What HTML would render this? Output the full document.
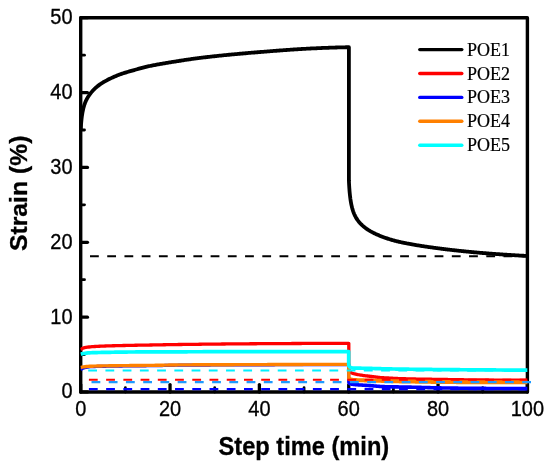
<!DOCTYPE html>
<html lang="en"><head><meta charset="utf-8"><title>Creep and recovery strain</title>
<style>html,body{margin:0;padding:0;background:#fff}body{width:550px;height:465px;overflow:hidden}svg{display:block}.tk{font-family:"Liberation Sans",Arial,sans-serif;font-size:20px;fill:#000;stroke:#000;stroke-width:0.3px}.ax{font-family:"Liberation Sans",Arial,sans-serif;font-size:24px;font-weight:bold;fill:#000;stroke:#000;stroke-width:0.3px}.lg{font-family:"Liberation Serif","Times New Roman",serif;font-size:18px;fill:#000;stroke:#000;stroke-width:0.2px}</style></head><body>
<svg width="550" height="465" viewBox="0 0 550 465">
<rect width="550" height="465" fill="#fff"/>
<rect x="80.7" y="17.7" width="446.70" height="374.30" fill="none" stroke="#000" stroke-width="3.4" stroke-linejoin="round"/>
<g stroke="#000" stroke-linecap="round"><line x1="80.7" y1="392.00" x2="87.5" y2="392.00" stroke-width="3.2"/><line x1="80.7" y1="354.57" x2="84.5" y2="354.57" stroke-width="2.8"/><line x1="80.7" y1="317.14" x2="87.5" y2="317.14" stroke-width="3.2"/><line x1="80.7" y1="279.71" x2="84.5" y2="279.71" stroke-width="2.8"/><line x1="80.7" y1="242.28" x2="87.5" y2="242.28" stroke-width="3.2"/><line x1="80.7" y1="204.85" x2="84.5" y2="204.85" stroke-width="2.8"/><line x1="80.7" y1="167.42" x2="87.5" y2="167.42" stroke-width="3.2"/><line x1="80.7" y1="129.99" x2="84.5" y2="129.99" stroke-width="2.8"/><line x1="80.7" y1="92.56" x2="87.5" y2="92.56" stroke-width="3.2"/><line x1="80.7" y1="55.13" x2="84.5" y2="55.13" stroke-width="2.8"/><line x1="80.7" y1="17.70" x2="87.5" y2="17.70" stroke-width="3.2"/><line x1="80.70" y1="392.0" x2="80.70" y2="384.6" stroke-width="3.3"/><line x1="125.37" y1="392.0" x2="125.37" y2="387.7" stroke-width="2.8"/><line x1="170.04" y1="392.0" x2="170.04" y2="384.6" stroke-width="3.3"/><line x1="214.71" y1="392.0" x2="214.71" y2="387.7" stroke-width="2.8"/><line x1="259.38" y1="392.0" x2="259.38" y2="384.6" stroke-width="3.3"/><line x1="304.05" y1="392.0" x2="304.05" y2="387.7" stroke-width="2.8"/><line x1="348.72" y1="392.0" x2="348.72" y2="384.6" stroke-width="3.3"/><line x1="393.39" y1="392.0" x2="393.39" y2="387.7" stroke-width="2.8"/><line x1="438.06" y1="392.0" x2="438.06" y2="384.6" stroke-width="3.3"/><line x1="482.73" y1="392.0" x2="482.73" y2="387.7" stroke-width="2.8"/><line x1="527.40" y1="392.0" x2="527.40" y2="384.6" stroke-width="3.3"/></g>
<text class="tk" transform="translate(72.6,398.4) scale(1,1.135)" text-anchor="end">0</text>
<text class="tk" transform="translate(72.6,323.5) scale(1,1.135)" text-anchor="end">10</text>
<text class="tk" transform="translate(72.6,248.7) scale(1,1.135)" text-anchor="end">20</text>
<text class="tk" transform="translate(72.6,173.8) scale(1,1.135)" text-anchor="end">30</text>
<text class="tk" transform="translate(72.6,99.0) scale(1,1.135)" text-anchor="end">40</text>
<text class="tk" transform="translate(72.6,24.1) scale(1,1.135)" text-anchor="end">50</text>
<text class="tk" transform="translate(80.7,416.1) scale(1,1.135)" text-anchor="middle">0</text>
<text class="tk" transform="translate(170.0,416.1) scale(1,1.135)" text-anchor="middle">20</text>
<text class="tk" transform="translate(259.4,416.1) scale(1,1.135)" text-anchor="middle">40</text>
<text class="tk" transform="translate(348.7,416.1) scale(1,1.135)" text-anchor="middle">60</text>
<text class="tk" transform="translate(438.1,416.1) scale(1,1.135)" text-anchor="middle">80</text>
<text class="tk" transform="translate(527.4,416.1) scale(1,1.135)" text-anchor="middle">100</text>
<text class="ax" transform="translate(303.9,454.8) scale(0.985,1.045)" text-anchor="middle">Step time (min)</text>
<text class="ax" transform="translate(27.3,193.3) scale(0.99,1.03) rotate(-90)" text-anchor="middle">Strain (%)</text>
<line x1="90" y1="256.3" x2="527" y2="256.3" stroke="#000" stroke-width="1.9" stroke-dasharray="8.8 8.43"/>
<defs><clipPath id="pc"><rect x="80.4" y="17.7" width="447.50" height="375.80"/></clipPath></defs>
<g clip-path="url(#pc)">
<path d="M80.70,130.79 L80.70,130.71 L80.72,130.46 L80.73,130.05 L80.76,129.50 L80.80,128.82 L80.84,128.04 L80.89,127.17 L80.95,126.23 L81.01,125.24 L81.08,124.21 L81.17,123.16 L81.25,122.10 L81.35,121.03 L81.45,119.97 L81.57,118.91 L81.69,117.87 L81.81,116.85 L81.95,115.84 L82.09,114.86 L82.24,113.89 L82.40,112.95 L82.56,112.03 L82.74,111.14 L82.92,110.26 L83.11,109.41 L83.30,108.58 L83.51,107.78 L83.72,106.99 L83.94,106.22 L84.16,105.47 L84.40,104.75 L84.64,104.04 L84.89,103.34 L85.15,102.67 L85.42,102.01 L85.69,101.37 L85.97,100.75 L86.26,100.15 L86.56,99.56 L86.86,98.98 L87.17,98.42 L87.49,97.87 L87.82,97.33 L88.15,96.80 L88.50,96.27 L88.85,95.75 L89.20,95.23 L89.57,94.70 L89.94,94.18 L90.32,93.65 L90.71,93.13 L91.11,92.62 L91.51,92.12 L91.93,91.63 L92.35,91.14 L92.77,90.67 L93.21,90.20 L93.65,89.74 L94.10,89.28 L95.08,88.34 L96.06,87.46 L97.03,86.64 L98.01,85.86 L98.99,85.12 L99.97,84.42 L100.95,83.75 L101.92,83.11 L102.90,82.50 L103.88,81.92 L104.86,81.36 L105.84,80.82 L106.81,80.30 L107.79,79.80 L108.77,79.31 L109.75,78.83 L110.73,78.36 L111.70,77.90 L112.68,77.45 L113.66,77.00 L114.64,76.57 L115.62,76.15 L116.59,75.74 L117.57,75.34 L118.55,74.96 L119.53,74.59 L120.51,74.24 L121.48,73.89 L122.46,73.56 L123.44,73.24 L124.42,72.92 L125.40,72.61 L126.37,72.31 L127.35,72.01 L128.33,71.72 L129.31,71.43 L130.29,71.15 L131.26,70.88 L132.24,70.60 L133.22,70.33 L134.20,70.06 L135.18,69.78 L136.15,69.50 L137.13,69.23 L138.11,68.95 L139.09,68.67 L140.07,68.39 L141.04,68.12 L142.02,67.86 L143.00,67.60 L143.98,67.35 L144.96,67.10 L145.93,66.87 L146.91,66.64 L147.89,66.43 L148.87,66.22 L149.85,66.01 L150.82,65.81 L151.80,65.61 L152.78,65.41 L153.76,65.22 L154.74,65.03 L155.71,64.84 L156.69,64.65 L157.67,64.47 L158.65,64.29 L159.63,64.11 L160.60,63.94 L161.58,63.77 L162.56,63.60 L163.54,63.43 L164.52,63.26 L165.49,63.09 L166.47,62.93 L167.45,62.77 L168.43,62.61 L169.41,62.45 L170.38,62.29 L171.36,62.13 L172.34,61.98 L173.32,61.82 L174.30,61.67 L175.27,61.52 L176.25,61.36 L177.23,61.21 L178.21,61.06 L179.19,60.90 L180.16,60.75 L181.14,60.60 L182.12,60.45 L183.10,60.29 L184.08,60.14 L185.05,59.99 L186.03,59.85 L187.01,59.70 L187.99,59.55 L188.97,59.41 L189.94,59.26 L190.92,59.12 L191.90,58.98 L192.88,58.84 L193.86,58.71 L194.83,58.57 L195.81,58.44 L196.79,58.31 L197.77,58.18 L198.75,58.06 L199.72,57.94 L200.70,57.82 L201.68,57.70 L202.66,57.58 L203.64,57.46 L204.61,57.35 L205.59,57.24 L206.57,57.12 L207.55,57.01 L208.52,56.90 L209.50,56.79 L210.48,56.68 L211.46,56.57 L212.44,56.46 L213.41,56.35 L214.39,56.25 L215.37,56.14 L216.35,56.04 L217.33,55.94 L218.30,55.83 L219.28,55.73 L220.26,55.63 L221.24,55.53 L222.22,55.43 L223.19,55.33 L224.17,55.23 L225.15,55.14 L226.13,55.04 L227.11,54.94 L228.08,54.85 L229.06,54.75 L230.04,54.66 L231.02,54.57 L232.00,54.47 L232.97,54.38 L233.95,54.29 L234.93,54.20 L235.91,54.11 L236.89,54.02 L237.86,53.93 L238.84,53.84 L239.82,53.75 L240.80,53.67 L241.78,53.58 L242.75,53.49 L243.73,53.41 L244.71,53.32 L245.69,53.24 L246.67,53.15 L247.64,53.07 L248.62,52.98 L249.60,52.90 L250.58,52.82 L251.56,52.73 L252.53,52.65 L253.51,52.57 L254.49,52.49 L255.47,52.41 L256.45,52.33 L257.42,52.25 L258.40,52.17 L259.38,52.09 L260.41,52.02 L261.41,51.94 L262.42,51.86 L263.42,51.78 L264.43,51.69 L265.43,51.61 L266.44,51.53 L267.44,51.45 L268.45,51.37 L269.46,51.29 L270.46,51.21 L271.47,51.13 L272.47,51.05 L273.48,50.97 L274.48,50.89 L275.49,50.81 L276.50,50.74 L277.50,50.66 L278.51,50.58 L279.51,50.51 L280.52,50.43 L281.52,50.35 L282.53,50.28 L283.53,50.20 L284.54,50.13 L285.55,50.06 L286.55,49.99 L287.56,49.92 L288.56,49.85 L289.57,49.78 L290.57,49.71 L291.58,49.65 L292.59,49.58 L293.59,49.51 L294.60,49.45 L295.60,49.38 L296.61,49.32 L297.61,49.26 L298.62,49.19 L299.62,49.13 L300.63,49.07 L301.64,49.01 L302.64,48.95 L303.65,48.89 L304.65,48.83 L305.66,48.78 L306.66,48.72 L307.67,48.67 L308.68,48.62 L309.68,48.57 L310.69,48.52 L311.69,48.47 L312.70,48.42 L313.70,48.37 L314.71,48.32 L315.71,48.28 L316.72,48.23 L317.73,48.19 L318.73,48.14 L319.74,48.10 L320.74,48.06 L321.75,48.01 L322.75,47.97 L323.76,47.93 L324.77,47.89 L325.77,47.85 L326.78,47.82 L327.78,47.78 L328.79,47.74 L329.79,47.71 L330.80,47.67 L331.80,47.64 L332.81,47.61 L333.82,47.58 L334.82,47.54 L335.83,47.51 L336.83,47.49 L337.84,47.46 L338.84,47.43 L339.85,47.40 L340.86,47.38 L341.86,47.35 L342.87,47.33 L343.87,47.31 L344.88,47.28 L345.88,47.26 L346.89,47.24 L347.89,47.22 L348.90,47.20 L348.90,180.57 L348.90,180.63 L348.91,180.82 L348.93,181.14 L348.95,181.57 L348.97,182.11 L349.00,182.75 L349.04,183.48 L349.08,184.28 L349.13,185.14 L349.19,186.05 L349.25,187.00 L349.31,187.99 L349.38,188.99 L349.46,190.01 L349.54,191.04 L349.63,192.07 L349.73,193.09 L349.83,194.11 L349.93,195.12 L350.05,196.12 L350.16,197.10 L350.29,198.07 L350.41,199.01 L350.55,199.94 L350.69,200.85 L350.84,201.74 L350.99,202.61 L351.14,203.46 L351.31,204.29 L351.48,205.10 L351.65,205.89 L351.83,206.66 L352.02,207.41 L352.21,208.15 L352.41,208.86 L352.61,209.56 L352.82,210.24 L353.03,210.91 L353.25,211.56 L353.48,212.19 L353.71,212.80 L353.95,213.40 L354.19,213.99 L354.44,214.56 L354.70,215.11 L354.96,215.65 L355.22,216.18 L355.50,216.70 L355.77,217.21 L356.06,217.70 L356.35,218.18 L356.64,218.66 L356.94,219.12 L357.25,219.58 L357.56,220.03 L357.88,220.48 L358.20,220.92 L358.53,221.34 L358.87,221.77 L359.21,222.18 L359.55,222.58 L359.91,222.98 L360.26,223.37 L360.63,223.75 L361.00,224.13 L361.37,224.50 L361.75,224.86 L362.14,225.22 L362.53,225.58 L362.93,225.93 L363.33,226.28 L363.74,226.62 L364.16,226.96 L364.58,227.30 L365.00,227.63 L365.44,227.97 L365.87,228.29 L366.32,228.61 L366.77,228.93 L367.44,229.39 L368.11,229.83 L368.79,230.26 L369.46,230.67 L370.13,231.07 L370.81,231.45 L371.48,231.82 L372.15,232.18 L372.82,232.52 L373.50,232.87 L374.17,233.20 L374.84,233.53 L375.52,233.85 L376.19,234.16 L376.86,234.47 L377.53,234.77 L378.21,235.07 L378.88,235.36 L379.55,235.64 L380.23,235.92 L380.90,236.19 L381.57,236.46 L382.24,236.72 L382.92,236.97 L383.59,237.22 L384.26,237.46 L384.94,237.70 L385.61,237.93 L386.28,238.16 L386.95,238.39 L387.63,238.61 L388.30,238.83 L388.97,239.05 L389.65,239.26 L390.32,239.47 L390.99,239.67 L391.66,239.87 L392.34,240.07 L393.01,240.26 L393.68,240.44 L394.35,240.62 L395.03,240.80 L395.70,240.97 L396.37,241.14 L397.05,241.30 L397.72,241.46 L398.39,241.62 L399.06,241.78 L399.74,241.93 L400.41,242.08 L401.08,242.23 L401.76,242.38 L402.43,242.53 L403.10,242.67 L403.77,242.81 L404.45,242.95 L405.12,243.09 L405.79,243.22 L406.47,243.35 L407.14,243.49 L407.81,243.62 L408.48,243.74 L409.16,243.87 L409.83,243.99 L410.50,244.12 L411.18,244.24 L411.85,244.36 L412.52,244.48 L413.19,244.60 L413.87,244.71 L414.54,244.83 L415.21,244.94 L415.89,245.05 L416.56,245.17 L417.23,245.28 L417.90,245.38 L418.58,245.49 L419.25,245.60 L419.92,245.71 L420.60,245.81 L421.27,245.92 L421.94,246.02 L422.61,246.12 L423.29,246.22 L423.96,246.33 L424.63,246.43 L425.31,246.53 L425.98,246.62 L426.65,246.72 L427.32,246.82 L428.00,246.92 L428.67,247.02 L429.34,247.11 L430.02,247.21 L430.69,247.30 L431.36,247.40 L432.03,247.49 L432.71,247.59 L433.38,247.68 L434.05,247.77 L434.73,247.86 L435.40,247.95 L436.07,248.04 L436.74,248.13 L437.42,248.22 L438.09,248.31 L438.76,248.40 L439.44,248.49 L440.11,248.57 L440.78,248.66 L441.45,248.75 L442.13,248.83 L442.80,248.92 L443.47,249.00 L444.15,249.08 L444.82,249.17 L445.49,249.25 L446.16,249.33 L446.84,249.41 L447.51,249.49 L448.18,249.57 L448.86,249.65 L449.53,249.73 L450.20,249.80 L450.87,249.88 L451.55,249.96 L452.22,250.03 L452.89,250.11 L453.57,250.18 L454.24,250.26 L454.91,250.33 L455.58,250.41 L456.26,250.48 L456.93,250.55 L457.60,250.63 L458.28,250.70 L458.95,250.77 L459.62,250.84 L460.29,250.91 L460.97,250.98 L461.64,251.05 L462.31,251.12 L462.99,251.19 L463.66,251.26 L464.33,251.33 L465.00,251.40 L465.68,251.47 L466.35,251.53 L467.02,251.60 L467.70,251.67 L468.37,251.73 L469.04,251.80 L469.71,251.86 L470.39,251.93 L471.06,251.99 L471.73,252.05 L472.41,252.12 L473.08,252.18 L473.75,252.24 L474.42,252.30 L475.10,252.36 L475.77,252.42 L476.44,252.48 L477.12,252.54 L477.79,252.60 L478.46,252.66 L479.13,252.71 L479.81,252.77 L480.48,252.83 L481.15,252.88 L481.83,252.94 L482.50,252.99 L483.17,253.05 L483.84,253.10 L484.52,253.15 L485.19,253.21 L485.86,253.26 L486.54,253.31 L487.21,253.37 L487.88,253.42 L488.55,253.47 L489.23,253.52 L489.90,253.57 L490.57,253.63 L491.25,253.68 L491.92,253.73 L492.59,253.78 L493.26,253.82 L493.94,253.87 L494.61,253.92 L495.28,253.97 L495.96,254.02 L496.63,254.07 L497.30,254.11 L497.97,254.16 L498.65,254.21 L499.32,254.25 L499.99,254.30 L500.67,254.35 L501.34,254.39 L502.01,254.44 L502.68,254.48 L503.36,254.53 L504.03,254.57 L504.70,254.62 L505.38,254.66 L506.05,254.70 L506.72,254.75 L507.39,254.79 L508.07,254.83 L508.74,254.88 L509.41,254.92 L510.09,254.96 L510.76,255.01 L511.43,255.05 L512.10,255.09 L512.78,255.13 L513.45,255.17 L514.12,255.21 L514.80,255.26 L515.47,255.30 L516.14,255.34 L516.81,255.38 L517.49,255.42 L518.16,255.46 L518.83,255.50 L519.51,255.54 L520.18,255.58 L520.85,255.61 L521.52,255.65 L522.20,255.69 L522.87,255.73 L523.54,255.77 L524.22,255.81 L524.89,255.84 L525.56,255.88 L526.23,255.92 L526.91,255.95 L527.58,255.99" fill="none" stroke="#000" stroke-width="3.8" stroke-linejoin="round" stroke-linecap="butt"/>
<path d="M80.70,349.80 L81.78,348.74 L83.09,348.12 L84.56,347.70 L86.02,347.41 L87.50,347.18 L88.98,347.00 L90.47,346.85 L91.96,346.72 L93.45,346.60 L94.94,346.49 L96.43,346.39 L97.92,346.30 L99.41,346.23 L100.90,346.16 L102.39,346.10 L103.89,346.04 L105.38,345.99 L106.87,345.94 L108.36,345.90 L109.86,345.85 L111.35,345.81 L112.84,345.77 L114.34,345.74 L115.83,345.70 L117.32,345.66 L118.82,345.63 L120.31,345.59 L121.80,345.56 L123.30,345.52 L124.79,345.49 L126.28,345.46 L127.78,345.42 L129.27,345.39 L130.76,345.36 L132.26,345.33 L133.75,345.30 L135.24,345.27 L136.74,345.25 L138.23,345.22 L139.72,345.19 L141.21,345.16 L142.71,345.14 L144.20,345.11 L145.69,345.08 L147.19,345.06 L148.68,345.03 L150.17,345.00 L151.67,344.98 L153.16,344.95 L154.65,344.92 L156.15,344.90 L157.64,344.87 L159.13,344.84 L160.63,344.82 L162.12,344.79 L163.61,344.76 L165.11,344.74 L166.60,344.71 L168.09,344.68 L169.59,344.66 L171.08,344.63 L172.57,344.61 L174.07,344.59 L175.56,344.56 L177.05,344.54 L178.55,344.52 L180.04,344.50 L181.53,344.48 L183.03,344.46 L184.52,344.44 L186.01,344.42 L187.51,344.40 L189.00,344.39 L190.49,344.37 L191.99,344.35 L193.48,344.33 L194.97,344.31 L196.47,344.29 L197.96,344.28 L199.45,344.26 L200.95,344.24 L202.44,344.22 L203.93,344.21 L205.43,344.19 L206.92,344.17 L208.41,344.16 L209.91,344.14 L211.40,344.12 L212.89,344.11 L214.39,344.09 L215.88,344.08 L217.37,344.06 L218.87,344.05 L220.36,344.03 L221.86,344.02 L223.35,344.00 L224.84,343.99 L226.34,343.97 L227.83,343.96 L229.32,343.94 L230.82,343.93 L232.31,343.92 L233.80,343.90 L235.30,343.89 L236.79,343.88 L238.28,343.86 L239.78,343.85 L241.27,343.84 L242.76,343.83 L244.26,343.81 L245.75,343.80 L247.24,343.79 L248.74,343.78 L250.23,343.77 L251.72,343.76 L253.22,343.75 L254.71,343.74 L256.20,343.73 L257.70,343.72 L259.19,343.71 L260.68,343.70 L262.18,343.69 L263.67,343.68 L265.17,343.67 L266.66,343.66 L268.15,343.65 L269.65,343.64 L271.14,343.63 L272.63,343.62 L274.13,343.61 L275.62,343.61 L277.11,343.60 L278.61,343.59 L280.10,343.58 L281.59,343.57 L283.09,343.57 L284.58,343.56 L286.07,343.55 L287.57,343.54 L289.06,343.54 L290.55,343.53 L292.05,343.52 L293.54,343.51 L295.03,343.51 L296.53,343.50 L298.02,343.49 L299.52,343.49 L301.01,343.48 L302.50,343.47 L304.00,343.47 L305.49,343.46 L306.98,343.45 L308.48,343.45 L309.97,343.44 L311.46,343.43 L312.96,343.43 L314.45,343.42 L315.94,343.42 L317.44,343.41 L318.93,343.40 L320.42,343.40 L321.92,343.39 L323.41,343.39 L324.90,343.38 L326.40,343.38 L327.89,343.37 L329.38,343.36 L330.88,343.36 L332.37,343.35 L333.87,343.35 L335.36,343.34 L336.85,343.34 L338.35,343.33 L339.84,343.33 L341.33,343.32 L342.83,343.32 L344.32,343.31 L345.81,343.31 L347.31,343.30 L348.80,343.30 L348.80,343.30 L348.80,344.31 L348.80,345.32 L348.80,346.32 L348.80,347.33 L348.80,348.33 L348.80,349.34 L348.80,350.34 L348.80,351.34 L348.80,352.34 L348.80,353.35 L348.80,354.35 L348.80,355.35 L348.80,356.34 L348.80,357.34 L348.80,358.34 L348.80,359.34 L348.80,360.34 L348.80,361.33 L348.80,362.33 L348.80,363.32 L348.80,364.32 L348.80,365.31 L348.80,366.31 L348.80,367.30 L348.84,368.30 L348.99,369.30 L349.19,370.27 L349.56,371.23 L350.11,372.02 L350.93,372.61 L351.84,373.05 L352.77,373.39 L353.74,373.68 L354.72,373.93 L355.69,374.16 L356.66,374.37 L357.64,374.57 L358.63,374.75 L359.61,374.92 L360.60,375.08 L361.59,375.23 L362.58,375.38 L363.57,375.52 L364.56,375.65 L365.56,375.78 L366.55,375.90 L367.54,376.01 L368.54,376.13 L369.53,376.24 L370.52,376.36 L371.51,376.49 L372.51,376.62 L373.50,376.75 L374.49,376.89 L375.48,377.01 L376.48,377.14 L377.47,377.25 L378.46,377.36 L379.46,377.45 L380.45,377.54 L381.45,377.61 L382.45,377.68 L383.44,377.74 L384.44,377.80 L385.44,377.86 L386.44,377.91 L387.44,377.96 L388.44,378.02 L389.44,378.07 L390.43,378.12 L391.43,378.18 L392.43,378.23 L393.43,378.29 L394.43,378.34 L395.43,378.40 L396.43,378.45 L397.42,378.49 L398.42,378.54 L399.42,378.58 L400.42,378.61 L401.42,378.65 L402.42,378.68 L403.42,378.71 L404.42,378.74 L405.42,378.77 L406.42,378.80 L407.42,378.83 L408.42,378.85 L409.42,378.88 L410.42,378.90 L411.42,378.92 L412.42,378.95 L413.42,378.97 L414.42,378.99 L415.42,379.01 L416.42,379.03 L417.41,379.05 L418.41,379.07 L419.41,379.08 L420.41,379.10 L421.41,379.12 L422.41,379.14 L423.41,379.15 L424.41,379.17 L425.41,379.18 L426.41,379.20 L427.41,379.21 L428.41,379.23 L429.41,379.24 L430.41,379.26 L431.41,379.27 L432.41,379.29 L433.41,379.30 L434.41,379.32 L435.41,379.33 L436.41,379.35 L437.41,379.36 L438.41,379.38 L439.41,379.39 L440.41,379.41 L441.41,379.42 L442.41,379.44 L443.41,379.45 L444.41,379.47 L445.41,379.49 L446.41,379.50 L447.41,379.52 L448.41,379.54 L449.41,379.55 L450.41,379.57 L451.41,379.58 L452.41,379.60 L453.41,379.62 L454.41,379.63 L455.41,379.65 L456.41,379.67 L457.41,379.68 L458.41,379.70 L459.41,379.71 L460.41,379.73 L461.41,379.74 L462.41,379.75 L463.41,379.77 L464.41,379.78 L465.41,379.80 L466.41,379.81 L467.41,379.82 L468.41,379.83 L469.41,379.84 L470.41,379.85 L471.40,379.86 L472.40,379.88 L473.40,379.89 L474.40,379.90 L475.40,379.91 L476.40,379.92 L477.40,379.93 L478.40,379.94 L479.40,379.95 L480.40,379.96 L481.40,379.96 L482.40,379.97 L483.40,379.98 L484.40,379.99 L485.40,380.00 L486.40,380.01 L487.40,380.02 L488.40,380.02 L489.40,380.03 L490.40,380.04 L491.40,380.05 L492.40,380.05 L493.40,380.06 L494.40,380.07 L495.40,380.07 L496.40,380.08 L497.40,380.09 L498.40,380.09 L499.40,380.10 L500.40,380.10 L501.40,380.11 L502.40,380.11 L503.40,380.12 L504.40,380.12 L505.40,380.13 L506.40,380.13 L507.40,380.14 L508.40,380.14 L509.40,380.14 L510.40,380.15 L511.40,380.15 L512.40,380.16 L513.40,380.16 L514.40,380.17 L515.40,380.17 L516.40,380.17 L517.40,380.18 L518.40,380.18 L519.40,380.18 L520.40,380.18 L521.40,380.19 L522.40,380.19 L523.40,380.19 L524.40,380.19 L525.40,380.20 L526.40,380.20 L527.40,380.20" fill="none" stroke="#ff0000" stroke-width="3.3" stroke-linejoin="round" stroke-linecap="butt"/>
<path d="M80.70,369.80 L81.79,368.80 L83.14,368.15 L84.57,367.72 L86.04,367.39 L87.50,367.12 L88.99,366.89 L90.47,366.77 L91.95,366.69 L93.44,366.62 L94.93,366.56 L96.42,366.51 L97.92,366.46 L99.41,366.41 L100.91,366.38 L102.40,366.34 L103.90,366.31 L105.39,366.28 L106.89,366.26 L108.38,366.23 L109.88,366.20 L111.37,366.18 L112.86,366.15 L114.36,366.13 L115.85,366.10 L117.34,366.08 L118.83,366.06 L120.33,366.04 L121.82,366.03 L123.31,366.01 L124.81,365.99 L126.30,365.97 L127.79,365.96 L129.29,365.94 L130.78,365.93 L132.27,365.91 L133.77,365.90 L135.26,365.89 L136.75,365.87 L138.25,365.86 L139.74,365.84 L141.23,365.83 L142.73,365.81 L144.22,365.80 L145.71,365.78 L147.21,365.76 L148.70,365.75 L150.19,365.73 L151.69,365.71 L153.18,365.69 L154.67,365.67 L156.17,365.65 L157.66,365.62 L159.15,365.60 L160.65,365.57 L162.14,365.54 L163.63,365.50 L165.12,365.47 L166.62,365.44 L168.11,365.40 L169.60,365.37 L171.10,365.34 L172.59,365.31 L174.08,365.28 L175.58,365.25 L177.07,365.23 L178.56,365.21 L180.06,365.20 L181.55,365.19 L183.04,365.18 L184.53,365.17 L186.03,365.15 L187.52,365.14 L189.01,365.13 L190.51,365.13 L192.00,365.12 L193.49,365.11 L194.99,365.10 L196.48,365.09 L197.97,365.08 L199.47,365.07 L200.96,365.07 L202.45,365.06 L203.95,365.05 L205.44,365.05 L206.93,365.04 L208.43,365.03 L209.92,365.03 L211.41,365.02 L212.91,365.01 L214.40,365.01 L215.89,365.00 L217.39,365.00 L218.88,364.99 L220.37,364.99 L221.87,364.98 L223.36,364.98 L224.85,364.97 L226.35,364.97 L227.84,364.96 L229.33,364.96 L230.83,364.95 L232.32,364.95 L233.81,364.94 L235.31,364.94 L236.80,364.93 L238.29,364.93 L239.79,364.92 L241.28,364.92 L242.77,364.91 L244.27,364.91 L245.76,364.90 L247.25,364.90 L248.75,364.89 L250.24,364.89 L251.73,364.88 L253.23,364.88 L254.72,364.87 L256.21,364.87 L257.71,364.86 L259.20,364.85 L260.69,364.85 L262.19,364.84 L263.68,364.83 L265.17,364.83 L266.67,364.82 L268.16,364.81 L269.65,364.80 L271.15,364.80 L272.64,364.79 L274.13,364.78 L275.63,364.77 L277.12,364.76 L278.61,364.75 L280.11,364.75 L281.60,364.74 L283.09,364.73 L284.59,364.72 L286.08,364.71 L287.57,364.71 L289.07,364.70 L290.56,364.69 L292.05,364.68 L293.55,364.68 L295.04,364.67 L296.53,364.66 L298.03,364.65 L299.52,364.65 L301.01,364.64 L302.51,364.64 L304.00,364.63 L305.49,364.63 L306.99,364.62 L308.48,364.62 L309.97,364.61 L311.47,364.61 L312.96,364.61 L314.45,364.60 L315.95,364.60 L317.44,364.60 L318.93,364.60 L320.43,364.60 L321.92,364.60 L323.41,364.60 L324.91,364.60 L326.40,364.60 L327.89,364.60 L329.39,364.60 L330.88,364.60 L332.37,364.60 L333.87,364.60 L335.36,364.60 L336.85,364.60 L338.35,364.60 L339.84,364.60 L341.33,364.60 L342.83,364.60 L344.32,364.60 L345.81,364.60 L347.31,364.60 L348.80,364.60 L348.70,364.60 L348.70,382.50" fill="none" stroke="#0000ff" stroke-width="3.2" stroke-linejoin="round" stroke-linecap="butt"/>
<path d="M348.80,381.60 L349.07,382.65 L349.57,383.37 L350.49,383.84 L351.45,384.11 L352.42,384.29 L353.42,384.43 L354.42,384.54 L355.41,384.64 L356.40,384.73 L357.39,384.80 L358.39,384.87 L359.38,384.93 L360.37,384.99 L361.37,385.06 L362.36,385.13 L363.35,385.19 L364.34,385.26 L365.34,385.33 L366.33,385.40 L367.32,385.47 L368.31,385.54 L369.30,385.61 L370.30,385.67 L371.29,385.74 L372.28,385.81 L373.27,385.88 L374.27,385.95 L375.26,386.02 L376.25,386.09 L377.24,386.17 L378.23,386.26 L379.23,386.34 L380.22,386.42 L381.21,386.50 L382.20,386.56 L383.19,386.62 L384.19,386.67 L385.18,386.71 L386.17,386.73 L387.17,386.75 L388.16,386.77 L389.16,386.79 L390.15,386.81 L391.15,386.82 L392.14,386.84 L393.14,386.85 L394.13,386.86 L395.13,386.88 L396.12,386.89 L397.11,386.90 L398.11,386.92 L399.10,386.93 L400.10,386.95 L401.09,386.97 L402.09,386.99 L403.08,387.01 L404.08,387.03 L405.07,387.04 L406.07,387.06 L407.06,387.08 L408.05,387.10 L409.05,387.12 L410.04,387.14 L411.04,387.16 L412.03,387.19 L413.03,387.21 L414.02,387.23 L415.02,387.25 L416.01,387.27 L417.00,387.30 L418.00,387.32 L418.99,387.35 L419.99,387.37 L420.98,387.40 L421.98,387.43 L422.97,387.46 L423.96,387.49 L424.96,387.52 L425.95,387.54 L426.95,387.57 L427.94,387.60 L428.94,387.63 L429.93,387.66 L430.92,387.69 L431.92,387.71 L432.91,387.74 L433.91,387.77 L434.90,387.79 L435.90,387.81 L436.89,387.84 L437.88,387.86 L438.88,387.88 L439.87,387.90 L440.87,387.92 L441.86,387.93 L442.86,387.95 L443.85,387.97 L444.85,387.98 L445.84,388.00 L446.84,388.01 L447.83,388.03 L448.82,388.05 L449.82,388.06 L450.81,388.08 L451.81,388.09 L452.80,388.10 L453.80,388.12 L454.79,388.13 L455.79,388.14 L456.78,388.16 L457.78,388.17 L458.77,388.18 L459.76,388.19 L460.76,388.21 L461.75,388.22 L462.75,388.23 L463.74,388.24 L464.74,388.25 L465.73,388.26 L466.73,388.27 L467.72,388.28 L468.72,388.29 L469.71,388.30 L470.71,388.31 L471.70,388.31 L472.69,388.32 L473.69,388.33 L474.68,388.34 L475.68,388.35 L476.67,388.36 L477.67,388.36 L478.66,388.37 L479.66,388.38 L480.65,388.39 L481.65,388.39 L482.64,388.40 L483.64,388.41 L484.63,388.41 L485.62,388.42 L486.62,388.43 L487.61,388.43 L488.61,388.44 L489.60,388.44 L490.60,388.45 L491.59,388.46 L492.59,388.46 L493.58,388.47 L494.58,388.47 L495.57,388.48 L496.57,388.48 L497.56,388.49 L498.56,388.49 L499.55,388.50 L500.54,388.50 L501.54,388.51 L502.53,388.51 L503.53,388.52 L504.52,388.52 L505.52,388.53 L506.51,388.53 L507.51,388.53 L508.50,388.54 L509.50,388.54 L510.49,388.55 L511.49,388.55 L512.48,388.55 L513.47,388.56 L514.47,388.56 L515.46,388.56 L516.46,388.57 L517.45,388.57 L518.45,388.58 L519.44,388.58 L520.44,388.58 L521.43,388.58 L522.43,388.59 L523.42,388.59 L524.42,388.59 L525.41,388.60 L526.41,388.60 L527.40,388.60" fill="none" stroke="#0000ff" stroke-width="3.6" stroke-linejoin="round" stroke-linecap="butt"/>
<path d="M80.70,367.60 L82.10,367.08 L83.58,366.85 L85.08,366.69 L86.57,366.55 L88.06,366.42 L89.56,366.32 L91.05,366.26 L92.55,366.20 L94.05,366.15 L95.54,366.10 L97.04,366.06 L98.54,366.02 L100.04,365.98 L101.54,365.95 L103.04,365.92 L104.54,365.89 L106.03,365.87 L107.53,365.84 L109.03,365.82 L110.53,365.79 L112.03,365.77 L113.53,365.75 L115.03,365.73 L116.52,365.71 L118.02,365.69 L119.52,365.67 L121.02,365.65 L122.52,365.64 L124.02,365.62 L125.51,365.61 L127.01,365.59 L128.51,365.58 L130.01,365.56 L131.51,365.55 L133.01,365.54 L134.51,365.52 L136.00,365.51 L137.50,365.50 L139.00,365.48 L140.50,365.47 L142.00,365.45 L143.50,365.44 L145.00,365.43 L146.49,365.41 L147.99,365.40 L149.49,365.38 L150.99,365.36 L152.49,365.34 L153.99,365.33 L155.49,365.31 L156.98,365.29 L158.48,365.26 L159.98,365.24 L161.48,365.21 L162.98,365.18 L164.48,365.15 L165.97,365.12 L167.47,365.09 L168.97,365.06 L170.47,365.03 L171.97,365.00 L173.47,364.98 L174.96,364.96 L176.46,364.94 L177.96,364.92 L179.46,364.90 L180.96,364.89 L182.46,364.88 L183.96,364.87 L185.45,364.86 L186.95,364.86 L188.45,364.85 L189.95,364.84 L191.45,364.83 L192.95,364.82 L194.44,364.81 L195.94,364.81 L197.44,364.80 L198.94,364.79 L200.44,364.79 L201.94,364.78 L203.44,364.77 L204.93,364.77 L206.43,364.76 L207.93,364.76 L209.43,364.75 L210.93,364.75 L212.43,364.74 L213.93,364.74 L215.42,364.73 L216.92,364.73 L218.42,364.72 L219.92,364.72 L221.42,364.71 L222.92,364.71 L224.42,364.70 L225.92,364.70 L227.41,364.69 L228.91,364.69 L230.41,364.69 L231.91,364.68 L233.41,364.68 L234.91,364.67 L236.41,364.67 L237.90,364.67 L239.40,364.66 L240.90,364.66 L242.40,364.65 L243.90,364.65 L245.40,364.65 L246.90,364.64 L248.39,364.64 L249.89,364.63 L251.39,364.63 L252.89,364.62 L254.39,364.62 L255.89,364.61 L257.39,364.61 L258.88,364.60 L260.38,364.60 L261.88,364.59 L263.38,364.59 L264.88,364.58 L266.38,364.58 L267.88,364.57 L269.37,364.56 L270.87,364.56 L272.37,364.55 L273.87,364.54 L275.37,364.54 L276.87,364.53 L278.37,364.52 L279.86,364.52 L281.36,364.51 L282.86,364.50 L284.36,364.50 L285.86,364.49 L287.36,364.48 L288.86,364.48 L290.35,364.47 L291.85,364.47 L293.35,364.46 L294.85,364.45 L296.35,364.45 L297.85,364.44 L299.35,364.44 L300.85,364.43 L302.34,364.43 L303.84,364.42 L305.34,364.42 L306.84,364.42 L308.34,364.41 L309.84,364.41 L311.34,364.41 L312.83,364.41 L314.33,364.40 L315.83,364.40 L317.33,364.40 L318.83,364.40 L320.33,364.40 L321.83,364.40 L323.32,364.40 L324.82,364.40 L326.32,364.40 L327.82,364.40 L329.32,364.40 L330.82,364.40 L332.32,364.40 L333.81,364.40 L335.31,364.40 L336.81,364.40 L338.31,364.40 L339.81,364.40 L341.31,364.40 L342.81,364.40 L344.30,364.40 L345.80,364.40 L347.30,364.40 L348.80,364.40 L348.80,364.40 L348.80,378.20" fill="none" stroke="#ff8000" stroke-width="3.4" stroke-linejoin="round" stroke-linecap="butt"/>
<path d="M348.80,377.50 L349.13,378.53 L349.74,379.15 L350.73,379.54 L351.70,379.71 L352.69,379.83 L353.69,379.91 L354.70,379.98 L355.70,380.04 L356.69,380.09 L357.69,380.14 L358.69,380.18 L359.69,380.22 L360.68,380.25 L361.68,380.29 L362.68,380.32 L363.68,380.36 L364.68,380.39 L365.67,380.43 L366.67,380.46 L367.67,380.49 L368.67,380.52 L369.67,380.55 L370.66,380.58 L371.66,380.60 L372.66,380.63 L373.66,380.66 L374.66,380.69 L375.65,380.72 L376.65,380.75 L377.65,380.77 L378.65,380.80 L379.65,380.83 L380.64,380.85 L381.64,380.88 L382.64,380.90 L383.64,380.93 L384.64,380.96 L385.63,380.98 L386.63,381.01 L387.63,381.03 L388.63,381.06 L389.63,381.09 L390.62,381.12 L391.62,381.15 L392.62,381.18 L393.62,381.21 L394.62,381.25 L395.61,381.28 L396.61,381.31 L397.61,381.34 L398.61,381.37 L399.61,381.39 L400.60,381.41 L401.60,381.43 L402.60,381.45 L403.60,381.47 L404.60,381.48 L405.60,381.50 L406.59,381.52 L407.59,381.53 L408.59,381.54 L409.59,381.56 L410.59,381.57 L411.59,381.59 L412.58,381.60 L413.58,381.61 L414.58,381.62 L415.58,381.64 L416.58,381.65 L417.58,381.67 L418.57,381.68 L419.57,381.69 L420.57,381.71 L421.57,381.72 L422.57,381.74 L423.57,381.76 L424.56,381.77 L425.56,381.79 L426.56,381.81 L427.56,381.82 L428.56,381.84 L429.56,381.86 L430.55,381.87 L431.55,381.89 L432.55,381.90 L433.55,381.92 L434.55,381.93 L435.55,381.95 L436.54,381.96 L437.54,381.97 L438.54,381.99 L439.54,382.00 L440.54,382.01 L441.54,382.01 L442.53,382.02 L443.53,382.03 L444.53,382.04 L445.53,382.05 L446.53,382.06 L447.53,382.07 L448.52,382.07 L449.52,382.08 L450.52,382.09 L451.52,382.10 L452.52,382.10 L453.52,382.11 L454.51,382.12 L455.51,382.12 L456.51,382.13 L457.51,382.13 L458.51,382.14 L459.51,382.15 L460.51,382.15 L461.50,382.16 L462.50,382.16 L463.50,382.17 L464.50,382.17 L465.50,382.18 L466.50,382.18 L467.49,382.19 L468.49,382.19 L469.49,382.20 L470.49,382.20 L471.49,382.21 L472.49,382.21 L473.48,382.21 L474.48,382.22 L475.48,382.22 L476.48,382.23 L477.48,382.23 L478.48,382.23 L479.48,382.24 L480.47,382.24 L481.47,382.25 L482.47,382.25 L483.47,382.25 L484.47,382.26 L485.47,382.26 L486.46,382.26 L487.46,382.27 L488.46,382.27 L489.46,382.27 L490.46,382.27 L491.46,382.28 L492.46,382.28 L493.45,382.28 L494.45,382.29 L495.45,382.29 L496.45,382.29 L497.45,382.29 L498.45,382.30 L499.44,382.30 L500.44,382.30 L501.44,382.30 L502.44,382.31 L503.44,382.31 L504.44,382.31 L505.43,382.31 L506.43,382.31 L507.43,382.32 L508.43,382.32 L509.43,382.32 L510.43,382.32 L511.43,382.32 L512.42,382.33 L513.42,382.33 L514.42,382.33 L515.42,382.33 L516.42,382.33 L517.42,382.34 L518.41,382.34 L519.41,382.34 L520.41,382.34 L521.41,382.34 L522.41,382.34 L523.41,382.35 L524.40,382.35 L525.40,382.35 L526.40,382.35 L527.40,382.35" fill="none" stroke="#ff8000" stroke-width="4.0" stroke-linejoin="round" stroke-linecap="butt"/>
<line x1="88.9" y1="379.8" x2="527" y2="379.8" stroke="#ff0000" stroke-width="2" stroke-dasharray="8.8 8.43"/>
<line x1="88.9" y1="389.1" x2="527" y2="389.1" stroke="#0000ff" stroke-width="2.2" stroke-dasharray="8.8 8.43"/>
<line x1="88.2" y1="370.5" x2="527" y2="370.5" stroke="#00f0ff" stroke-width="2" stroke-dasharray="8.8 8.43"/>
<path d="M80.70,354.40 L82.06,353.78 L83.53,353.50 L85.02,353.30 L86.51,353.11 L88.00,352.95 L89.49,352.83 L90.99,352.76 L92.48,352.70 L93.98,352.64 L95.48,352.60 L96.97,352.55 L98.47,352.52 L99.97,352.48 L101.47,352.45 L102.97,352.42 L104.47,352.40 L105.97,352.37 L107.47,352.34 L108.96,352.32 L110.46,352.29 L111.96,352.26 L113.46,352.24 L114.96,352.21 L116.46,352.19 L117.95,352.16 L119.45,352.14 L120.95,352.11 L122.45,352.09 L123.95,352.07 L125.44,352.05 L126.94,352.04 L128.44,352.02 L129.94,352.01 L131.44,352.00 L132.94,351.99 L134.43,351.98 L135.93,351.97 L137.43,351.96 L138.93,351.95 L140.43,351.94 L141.93,351.94 L143.42,351.93 L144.92,351.92 L146.42,351.91 L147.92,351.91 L149.42,351.90 L150.92,351.89 L152.41,351.89 L153.91,351.88 L155.41,351.88 L156.91,351.87 L158.41,351.87 L159.91,351.86 L161.40,351.86 L162.90,351.85 L164.40,351.85 L165.90,351.84 L167.40,351.84 L168.90,351.83 L170.39,351.83 L171.89,351.82 L173.39,351.82 L174.89,351.82 L176.39,351.81 L177.89,351.81 L179.39,351.80 L180.88,351.80 L182.38,351.79 L183.88,351.79 L185.38,351.78 L186.88,351.78 L188.38,351.77 L189.87,351.77 L191.37,351.76 L192.87,351.76 L194.37,351.75 L195.87,351.75 L197.37,351.74 L198.86,351.74 L200.36,351.73 L201.86,351.73 L203.36,351.72 L204.86,351.72 L206.36,351.71 L207.85,351.71 L209.35,351.70 L210.85,351.70 L212.35,351.69 L213.85,351.69 L215.35,351.68 L216.84,351.68 L218.34,351.67 L219.84,351.67 L221.34,351.66 L222.84,351.66 L224.34,351.66 L225.83,351.65 L227.33,351.65 L228.83,351.64 L230.33,351.64 L231.83,351.64 L233.33,351.63 L234.82,351.63 L236.32,351.63 L237.82,351.62 L239.32,351.62 L240.82,351.62 L242.32,351.62 L243.81,351.61 L245.31,351.61 L246.81,351.61 L248.31,351.61 L249.81,351.61 L251.31,351.60 L252.80,351.60 L254.30,351.60 L255.80,351.60 L257.30,351.60 L258.80,351.60 L260.30,351.60 L261.79,351.60 L263.29,351.60 L264.79,351.60 L266.29,351.60 L267.79,351.60 L269.29,351.60 L270.79,351.60 L272.28,351.60 L273.78,351.60 L275.28,351.60 L276.78,351.60 L278.28,351.60 L279.78,351.60 L281.27,351.60 L282.77,351.60 L284.27,351.60 L285.77,351.60 L287.27,351.60 L288.77,351.60 L290.26,351.60 L291.76,351.60 L293.26,351.60 L294.76,351.60 L296.26,351.60 L297.76,351.60 L299.25,351.60 L300.75,351.60 L302.25,351.60 L303.75,351.60 L305.25,351.60 L306.75,351.60 L308.24,351.60 L309.74,351.60 L311.24,351.60 L312.74,351.60 L314.24,351.60 L315.74,351.60 L317.23,351.60 L318.73,351.60 L320.23,351.60 L321.73,351.60 L323.23,351.60 L324.73,351.60 L326.22,351.60 L327.72,351.60 L329.22,351.60 L330.72,351.60 L332.22,351.60 L333.72,351.60 L335.21,351.60 L336.71,351.60 L338.21,351.60 L339.71,351.60 L341.21,351.60 L342.71,351.60 L344.20,351.60 L345.70,351.60 L347.20,351.60 L348.70,351.60 L348.70,351.60 L348.70,365.00" fill="none" stroke="#00ffff" stroke-width="3.7" stroke-linejoin="round" stroke-linecap="butt"/>
<path d="M348.70,364.60 L348.87,365.66 L349.26,366.49 L350.03,367.16 L350.93,367.56 L351.90,367.84 L352.91,367.99 L353.89,368.05 L354.88,368.09 L355.88,368.12 L356.88,368.14 L357.88,368.16 L358.88,368.18 L359.88,368.20 L360.88,368.22 L361.88,368.24 L362.87,368.26 L363.87,368.28 L364.87,368.30 L365.86,368.32 L366.86,368.33 L367.86,368.35 L368.86,368.37 L369.85,368.40 L370.85,368.42 L371.85,368.45 L372.84,368.48 L373.84,368.51 L374.84,368.54 L375.83,368.58 L376.83,368.61 L377.83,368.64 L378.82,368.67 L379.82,368.70 L380.82,368.72 L381.81,368.74 L382.81,368.77 L383.81,368.79 L384.80,368.81 L385.80,368.83 L386.80,368.86 L387.80,368.88 L388.79,368.90 L389.79,368.92 L390.79,368.94 L391.78,368.96 L392.78,368.98 L393.78,369.00 L394.77,369.01 L395.77,369.03 L396.77,369.05 L397.77,369.06 L398.76,369.08 L399.76,369.10 L400.76,369.11 L401.75,369.13 L402.75,369.14 L403.75,369.16 L404.75,369.17 L405.74,369.18 L406.74,369.20 L407.74,369.21 L408.73,369.22 L409.73,369.23 L410.73,369.25 L411.73,369.26 L412.72,369.27 L413.72,369.28 L414.72,369.29 L415.71,369.30 L416.71,369.31 L417.71,369.33 L418.71,369.34 L419.70,369.35 L420.70,369.36 L421.70,369.37 L422.69,369.38 L423.69,369.39 L424.69,369.40 L425.69,369.41 L426.68,369.42 L427.68,369.43 L428.68,369.44 L429.67,369.45 L430.67,369.46 L431.67,369.47 L432.67,369.48 L433.66,369.49 L434.66,369.50 L435.66,369.51 L436.66,369.52 L437.65,369.53 L438.65,369.54 L439.65,369.55 L440.64,369.56 L441.64,369.56 L442.64,369.57 L443.64,369.58 L444.63,369.59 L445.63,369.60 L446.63,369.61 L447.62,369.62 L448.62,369.63 L449.62,369.64 L450.62,369.64 L451.61,369.65 L452.61,369.66 L453.61,369.67 L454.60,369.68 L455.60,369.69 L456.60,369.69 L457.60,369.70 L458.59,369.71 L459.59,369.72 L460.59,369.73 L461.58,369.73 L462.58,369.74 L463.58,369.75 L464.58,369.76 L465.57,369.77 L466.57,369.77 L467.57,369.78 L468.57,369.79 L469.56,369.80 L470.56,369.80 L471.56,369.81 L472.55,369.82 L473.55,369.83 L474.55,369.83 L475.55,369.84 L476.54,369.85 L477.54,369.85 L478.54,369.86 L479.53,369.87 L480.53,369.87 L481.53,369.88 L482.53,369.89 L483.52,369.89 L484.52,369.90 L485.52,369.91 L486.51,369.91 L487.51,369.92 L488.51,369.92 L489.51,369.93 L490.50,369.94 L491.50,369.94 L492.50,369.95 L493.50,369.96 L494.49,369.96 L495.49,369.97 L496.49,369.98 L497.48,369.98 L498.48,369.99 L499.48,370.00 L500.48,370.00 L501.47,370.01 L502.47,370.02 L503.47,370.02 L504.46,370.03 L505.46,370.04 L506.46,370.05 L507.46,370.05 L508.45,370.06 L509.45,370.07 L510.45,370.07 L511.44,370.08 L512.44,370.09 L513.44,370.10 L514.44,370.10 L515.43,370.11 L516.43,370.12 L517.43,370.13 L518.43,370.13 L519.42,370.14 L520.42,370.15 L521.42,370.15 L522.41,370.16 L523.41,370.17 L524.41,370.18 L525.41,370.18 L526.40,370.19 L527.40,370.20" fill="none" stroke="#00ffff" stroke-width="3.7" stroke-linejoin="round" stroke-linecap="butt"/>
</g>
<line x1="91.5" y1="382.1" x2="531" y2="382.1" stroke="#1e9aff" stroke-width="2.1" stroke-dasharray="8.8 8.43"/>
<line x1="419.8" y1="49.6" x2="461.8" y2="49.6" stroke="#000" stroke-width="3.4" stroke-linecap="round"/>
<text class="lg" transform="translate(467.0,55.6) scale(1,1.05)">POE1</text>
<line x1="419.8" y1="73.5" x2="461.8" y2="73.5" stroke="#ff0000" stroke-width="3.4" stroke-linecap="round"/>
<text class="lg" transform="translate(467.0,79.5) scale(1,1.05)">POE2</text>
<line x1="419.8" y1="97.4" x2="461.8" y2="97.4" stroke="#0000ff" stroke-width="3.4" stroke-linecap="round"/>
<text class="lg" transform="translate(467.0,103.4) scale(1,1.05)">POE3</text>
<line x1="419.8" y1="121.3" x2="461.8" y2="121.3" stroke="#ff8000" stroke-width="3.4" stroke-linecap="round"/>
<text class="lg" transform="translate(467.0,127.3) scale(1,1.05)">POE4</text>
<line x1="419.8" y1="145.3" x2="461.8" y2="145.3" stroke="#00ffff" stroke-width="3.4" stroke-linecap="round"/>
<text class="lg" transform="translate(467.0,151.3) scale(1,1.05)">POE5</text>
</svg></body></html>
